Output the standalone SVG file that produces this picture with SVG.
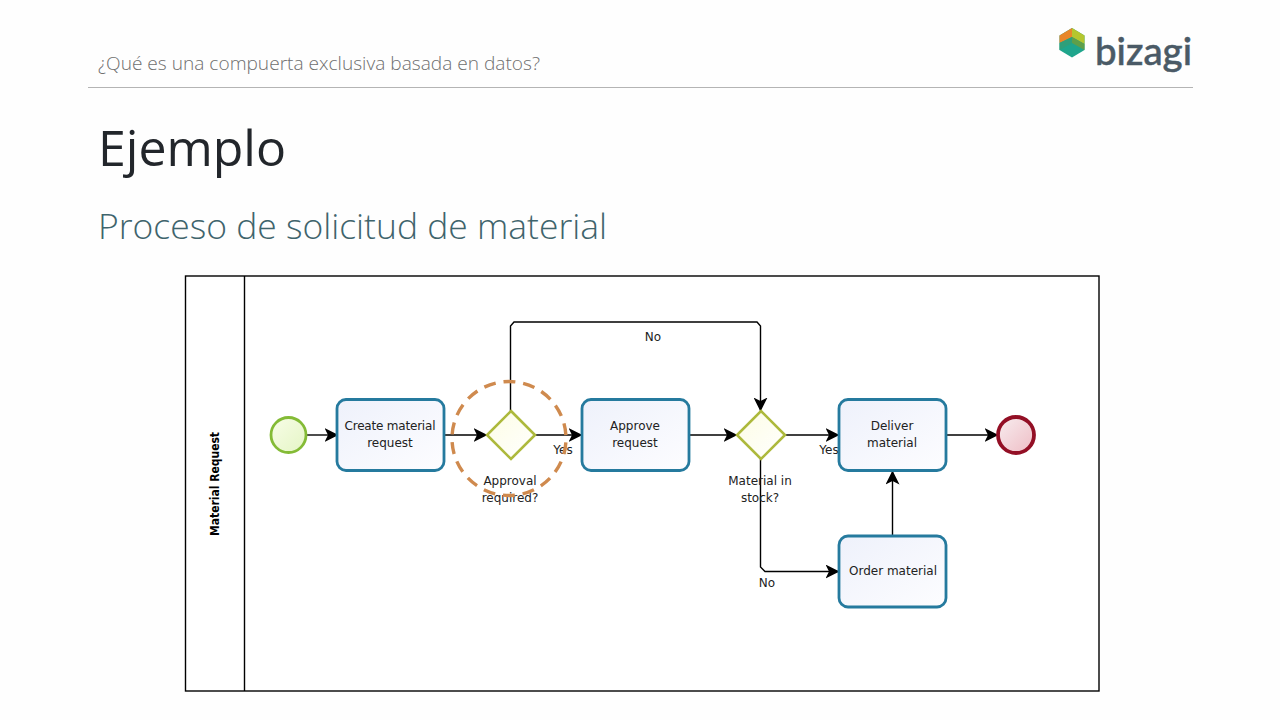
<svg xmlns="http://www.w3.org/2000/svg" width="1280" height="720" viewBox="0 0 1280 720">
<style>
.lbl{font-family:"DejaVu Sans",sans-serif;font-size:12px;fill:#222;text-anchor:middle}
.task{fill:url(#taskFill);stroke:#257a9e;stroke-width:2.8}
.gw{fill:url(#gwFill);stroke:#adb93c;stroke-width:2.6}
.conn{fill:none;stroke:#000;stroke-width:1.4}
.head{font-family:"Open Sans",sans-serif;font-weight:300}
.title{font-family:"Open Sans",sans-serif;font-weight:400}
</style>
<defs>
<linearGradient id="taskFill" x1="0" y1="0" x2="1" y2="1"><stop offset="0" stop-color="#eef1fb"/><stop offset="1" stop-color="#fdfdff"/></linearGradient>
<linearGradient id="gwFill" x1="0" y1="0" x2="1" y2="1"><stop offset="0" stop-color="#fdfde4"/><stop offset="1" stop-color="#ffffff"/></linearGradient>
<linearGradient id="startFill" x1="0" y1="0" x2="1" y2="1"><stop offset="0" stop-color="#f8fde8"/><stop offset="1" stop-color="#e4f5c4"/></linearGradient>
<linearGradient id="endFill" x1="0" y1="0" x2="1" y2="1"><stop offset="0" stop-color="#f8eef0"/><stop offset="1" stop-color="#eebcc4"/></linearGradient>
<marker id="arrow" viewBox="0 0 14 14" refX="13.500" refY="7" markerWidth="14" markerHeight="14" markerUnits="userSpaceOnUse" orient="auto"><path d="M0 0L14 7L0 14L3.500 7Z" fill="#000"/></marker>
</defs>
<rect width="1280" height="720" fill="#fefefe"/>
<g id="header">
<text class="head" x="98" y="70" font-size="19" fill="#6f6f6f" textLength="442" lengthAdjust="spacingAndGlyphs">¿Qué es una compuerta exclusiva basada en datos?</text>
<line x1="88" y1="87.500" x2="1193" y2="87.500" stroke="#b4b4b4" stroke-width="1.2"/>
<text class="title" x="98" y="166" font-size="50" fill="#22262b" textLength="188" lengthAdjust="spacingAndGlyphs">Ejemplo</text>
<text class="head" x="98" y="239" font-size="34.500" fill="#3f646c" textLength="509" lengthAdjust="spacingAndGlyphs">Proceso de solicitud de material</text>
</g>
<g id="logo">
<polygon points="1072,28 1084.500,35.500 1084.500,50 1072,57.500 1059.500,50 1059.500,35.500" fill="#1fa58c"/>
<polygon points="1072,28 1059.500,35.500 1059.500,43 1072,37" fill="#e8862a"/>
<polygon points="1072,28 1084.500,35.500 1084.500,44 1072,37" fill="#b5c62f"/>
<polygon points="1072,37 1084.500,44 1084.500,50 1072,43" fill="#5f9f4a"/>
<polygon points="1059.500,43 1072,37 1072,43 1059.500,50" fill="#2f9f7a"/>
<text x="1095" y="65" font-family="Lato,sans-serif" font-size="39" font-weight="500" fill="#4a5a66" stroke="#4a5a66" stroke-width="0.5" textLength="97" lengthAdjust="spacingAndGlyphs">bizagi</text>
</g>
<g id="pool">
<rect x="185.500" y="276" width="913.500" height="415" fill="#fff" stroke="#000" stroke-width="1.400"/>
<line x1="244.500" y1="276" x2="244.500" y2="691" stroke="#000" stroke-width="1.400"/>
<text transform="translate(219,484) rotate(-90)" font-family="'DejaVu Sans',sans-serif" font-size="12" font-weight="700" text-anchor="middle" fill="#000" textLength="104" lengthAdjust="spacingAndGlyphs">Material Request</text>
</g>
<g id="connectors">
<path class="conn" d="M307 435H338" marker-end="url(#arrow)"/>
<path class="conn" d="M444 435H487" marker-end="url(#arrow)"/>
<path class="conn" d="M535 435H582" marker-end="url(#arrow)"/>
<path class="conn" d="M689 435H737" marker-end="url(#arrow)"/>
<path class="conn" d="M785 435H839" marker-end="url(#arrow)"/>
<path class="conn" d="M946 435H998" marker-end="url(#arrow)"/>
<path class="conn" d="M510.500 411V326L514 322H757L760.500 326V411" marker-end="url(#arrow)"/>
<path class="conn" d="M760.500 459V567L765 571.500H839" marker-end="url(#arrow)"/>
<path class="conn" d="M892.500 536V471" marker-end="url(#arrow)"/>
</g>
<g id="start"><circle cx="288.500" cy="435" r="17.500" fill="url(#startFill)" stroke="#84bb36" stroke-width="2.800"/></g>
<g id="create"><rect class="task" x="337" y="399.500" width="107" height="71" rx="9"/><text class="lbl" x="390" y="430" textLength="91" lengthAdjust="spacing">Create material</text><text class="lbl" x="390" y="447">request</text></g>
<g id="approval"><polygon class="gw" points="511,411 535,435 511,459 487,435"/><text class="lbl" x="510" y="485">Approval</text><text class="lbl" x="510" y="502">required?</text><text class="lbl" x="563" y="454">Yes</text></g>
<g id="approve"><rect class="task" x="582" y="399.500" width="107" height="71" rx="9"/><text class="lbl" x="635" y="430">Approve</text><text class="lbl" x="635" y="447">request</text></g>
<g id="stock"><polygon class="gw" points="761,411 785,435 761,459 737,435"/><text class="lbl" x="760" y="485">Material in</text><text class="lbl" x="760" y="502">stock?</text><text class="lbl" x="829" y="454">Yes</text></g>
<g id="deliver"><rect class="task" x="839" y="399.500" width="107" height="71" rx="9"/><text class="lbl" x="892" y="430">Deliver</text><text class="lbl" x="892" y="447">material</text></g>
<g id="order"><rect class="task" x="839" y="536" width="107" height="71" rx="9"/><text class="lbl" x="893" y="575">Order material</text></g>
<g id="end"><circle cx="1016" cy="435" r="18" fill="url(#endFill)" stroke="#930f25" stroke-width="3.800"/></g>
<g id="labels"><text class="lbl" x="653" y="341">No</text><text class="lbl" x="767" y="587">No</text></g>
<circle id="highlight" cx="509" cy="438.500" r="57" fill="none" stroke="#cf8a4e" stroke-width="3.400" stroke-dasharray="12 7.900" stroke-dashoffset="16"/>
</svg>
